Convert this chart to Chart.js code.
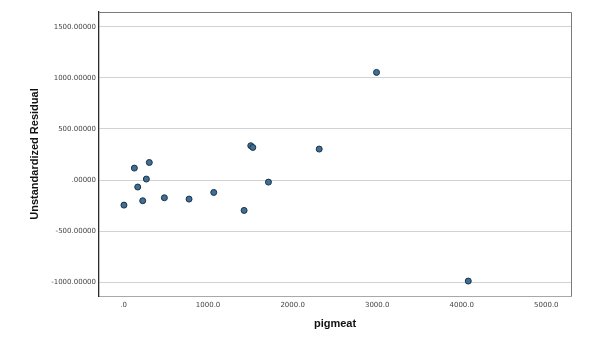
<!DOCTYPE html>
<html>
<head>
<meta charset="utf-8">
<script src="https://cdn.jsdelivr.net/npm/chart.js@4"></script>
<style>
  body { margin: 0; background: #fff; }
  canvas { display: block; }
</style>
</head>
<body>
<canvas id="residual-chart" width="597" height="344"></canvas>
<script>
// pigmeat 값 (x)
const pigmeat = [5, 128, 168, 227, 270, 305, 483, 775, 1067, 1426, 1505, 1529, 1714, 2314, 2992, 4077];
// 비표준화 잔차 (y)
const residuals = [-245, 117, -68, -202, 10, 172, -173, -186, -121, -297, 336, 319, -20, 303, 1053, -988];

// 축 눈금
const xTicks = [0, 1000, 2000, 3000, 4000, 5000];
const yTicks = [-1000, -500, 0, 500, 1000, 1500];

// 차트 영역 테두리 (위, 오른쪽)
const frameLines = {
  id: 'frameLines',
  beforeDatasetsDraw(chart) {
    const { ctx, chartArea: a } = chart;
    ctx.save();
    ctx.strokeStyle = '#7a7a7a';
    ctx.lineWidth = 1;
    ctx.beginPath();
    ctx.moveTo(a.left, a.top + 0.5);
    ctx.lineTo(a.right + 0.5, a.top + 0.5);
    ctx.lineTo(a.right + 0.5, a.bottom);
    ctx.stroke();
    ctx.restore();
  }
};

const points = pigmeat.map((x, i) => ({ x: x, y: residuals[i] }));

new Chart(document.getElementById('residual-chart').getContext('2d'), {
  type: 'scatter',
  data: {
    datasets: [{
      data: points,
      backgroundColor: '#3d6f97',
      borderColor: '#1c3246',
      borderWidth: 1,
      pointRadius: 3,
      pointHoverRadius: 3
    }]
  },
  options: {
    responsive: false,
    animation: false,
    devicePixelRatio: 1,
    layout: { padding: { left: 24, right: 26, top: 12, bottom: 9 } },
    plugins: {
      legend: { display: false },
      tooltip: { enabled: false }
    },
    scales: {
      x: {
        type: 'linear',
        min: -290,
        max: 5292,
        afterBuildTicks: scale => { scale.ticks = xTicks.map(v => ({ value: v })); },
        afterFit: scale => { scale.height = 39; },
        grid: { display: false, drawTicks: false },
        border: { display: true, color: '#a8a8a8', width: 1 },
        ticks: {
          padding: 5,
          maxRotation: 0,
          color: '#444',
          font: { family: 'DejaVu Sans', size: 7 },
          callback: v => (v === 0 ? '.0' : v.toFixed(1))
        },
        title: {
          display: true,
          text: 'pigmeat',
          color: '#111',
          padding: { top: 4, bottom: 4 },
          font: { family: 'Liberation Sans', size: 11, weight: 'bold' }
        }
      },
      y: {
        type: 'linear',
        min: -1134,
        max: 1644,
        afterBuildTicks: scale => { scale.ticks = yTicks.map(v => ({ value: v })); },
        afterFit: scale => { scale.width = 75; },
        grid: { color: '#d2d2d2', lineWidth: 1, drawTicks: false },
        border: { display: true, color: '#2a2a2a', width: 1.3 },
        ticks: {
          padding: 3,
          color: '#444',
          font: { family: 'DejaVu Sans', size: 7 },
          callback: v => (v === 0 ? '.00000' : v.toFixed(5))
        },
        title: {
          display: true,
          text: 'Unstandardized Residual',
          color: '#111',
          padding: { top: 4, bottom: 4 },
          font: { family: 'Liberation Sans', size: 11, weight: 'bold' }
        }
      }
    }
  },
  plugins: [frameLines]
});
</script>
</body>
</html>
